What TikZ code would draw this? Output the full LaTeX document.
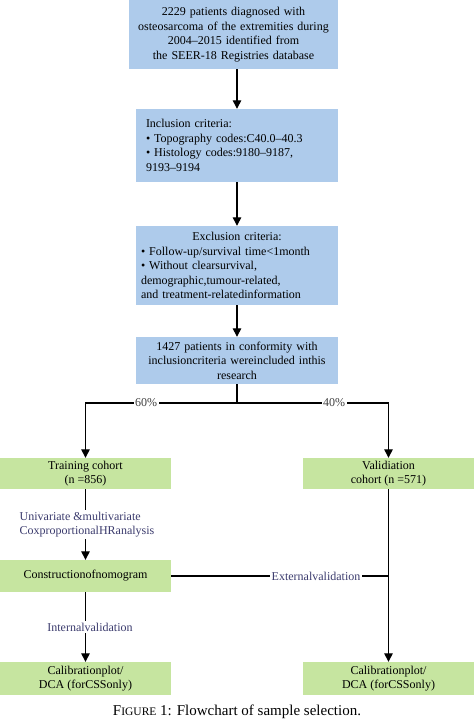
\documentclass[tikz,border=0pt]{standalone}
\usepackage{fontspec}
\setmainfont{Liberation Serif}
\usetikzlibrary{arrows.meta}
\definecolor{bluebox}{HTML}{AECBEB}
\definecolor{greenbox}{HTML}{C6E5A0}
\definecolor{lblcol}{HTML}{3C3C6E}
\begin{document}
\begin{tikzpicture}[x=1pt,y=-1pt,
  every node/.style={font=\fontsize{12}{14.5}\selectfont},
  bbox/.style={fill=bluebox,inner sep=0pt,minimum width=202pt},
  gbox/.style={fill=greenbox,inner sep=0pt,minimum width=171pt,align=center},
  arr/.style={-{Triangle[length=8.5pt,width=8.5pt]},line width=1.3pt},
  ln/.style={line width=1.3pt},
  lbl/.style={fill=white,text=lblcol,inner sep=1.5pt}]
\useasboundingbox (0,0) rectangle (474,725);
% box 1
\node[bbox,minimum width=209pt,minimum height=69pt,text width=207pt,align=center] (b1) at (233.5,34.5)
 {2229 patients diagnosed with\\osteosarcoma of the extremities during\\2004--2015 identified from\\the SEER-18 Registries database};
% box 2
\node[bbox,minimum height=73pt,text width=182pt,align=left] (b2) at (237,145.5)
 {Inclusion criteria:\\\textbullet{} Topography codes:C40.0--40.3\\\textbullet{} Histology codes:9180--9187,\\9193--9194};
% box 3
\node[bbox,minimum height=79pt,text width=192pt] (b3) at (237,265.5)
 {\centering Exclusion criteria:\par\raggedright
 \textbullet{} Follow-up/survival time\textless1month\\\textbullet{} Without clearsurvival,\\demographic,tumour-related,\\and treatment-relatedinformation\par};
% box 4
\node[bbox,minimum height=47pt,text width=200pt,align=center] (b4) at (237,360.5)
 {1427 patients in conformity with\\inclusioncriteria wereincluded inthis\\research};
% cohorts
\node[gbox,minimum height=31pt] (tr) at (85.5,473.5) {Training cohort\\(n =856)};
\node[gbox,minimum height=31pt] (va) at (388.5,473.5) {Validiation\\cohort (n =571)};
\node[gbox,minimum height=32pt] (cn) at (85.5,576) {Constructionofnomogram};
\node[gbox,minimum height=33pt] (cl) at (85.5,678.5) {Calibrationplot/\\DCA (forCSSonly)};
\node[gbox,minimum height=33pt] (cr) at (388.5,678.5) {Calibrationplot/\\DCA (forCSSonly)};
% arrows
\draw[arr] (b1.south -| b2.north) -- (b2.north);
\draw[arr] (b2.south) -- (b3.north);
\draw[arr] (b3.south) -- (b4.north);
\coordinate (sp) at (237,403);
\draw[ln] (b4.south) -- (sp);
\draw[arr] (sp) -| (tr.north);
\draw[arr] (sp) -| (va.north);
\node[lbl,text=black!75] (p60) at (146,403) {60\%};
\node[lbl,text=black!75] (p40) at (334,403) {40\%};
\draw[arr] (tr.south) -- (cn.north);
\node[lbl,anchor=west,align=left] (uni) at (18,524.5) {Univariate \&multivariate\\CoxproportionalHRanalysis};
\draw[arr] (va.south) -- (cr.north);
\coordinate (ej) at (va.south |- cn.east);
\draw[ln] (cn.east) -- (ej);
\node[lbl] (ext) at (316,576) {Externalvalidation};
\draw[arr] (cn.south) -- (cl.north);
\node[lbl] (int) at (90,627) {Internalvalidation};
% caption
\node (cap) at (237,712) {\fontsize{15}{16}\selectfont F{\fontsize{11.5}{12}\selectfont IGURE} 1: Flowchart of sample selection.};
\end{tikzpicture}
\end{document}
